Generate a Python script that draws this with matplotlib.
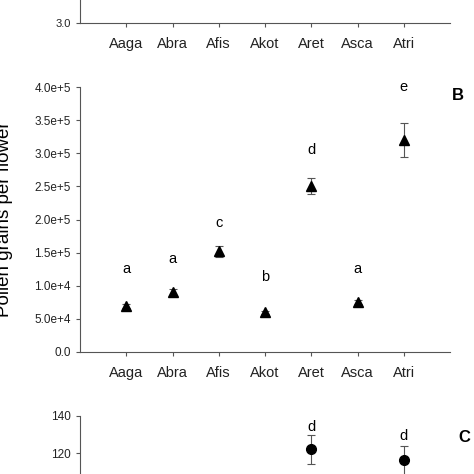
import matplotlib
matplotlib.use("Agg")
import matplotlib.pyplot as plt

plt.rcParams['font.family'] = ['Liberation Sans', 'DejaVu Sans']

species = ["Aaga", "Abra", "Afis", "Akot", "Aret", "Asca", "Atri"]
pollen = [70000, 90000, 152000, 60000, 250000, 75000, 320000]
pollen_err = [3000, 5000, 8000, 2500, 12000, 3000, 25000]
pollen_letters = ["a", "a", "c", "b", "d", "a", "e"]
pollen_letter_y = [125000, 140000, 195000, 113000, 305000, 125000, 400000]
b_ticks = [0, 50000, 100000, 150000, 200000, 250000, 300000, 350000, 400000]
b_ticklabels = ["0.0", "5.0e+4", "1.0e+4", "1.5e+5", "2.0e+5", "2.5e+5", "3.0e+5", "3.5e+5", "4.0e+5"]

c_species_idx = [5, 7]
c_vals = [122, 116]
c_err = [8, 8]
c_letters = ["d", "d"]
c_letter_y = [134, 129]
c_ticks = [120, 140]

W = H = 474
fig = plt.figure(figsize=(4.74, 4.74), dpi=100)
xs = list(range(1, 8))
gray = "#555555"

def style(ax):
    for s in ["top", "right"]:
        ax.spines[s].set_visible(False)
    for s in ["left", "bottom"]:
        ax.spines[s].set_color(gray)
        ax.spines[s].set_linewidth(0.8)
    ax.tick_params(colors=gray, labelcolor="#222222", length=3, width=0.8)
    ax.set_xlim(0, 8)

def ax_px(left, bottom, right, top):
    return fig.add_axes([left / W, 1 - bottom / H, (right - left) / W, (bottom - top) / H])

# top partial panel
axA = ax_px(80, 23, 450, -200)
style(axA)
axA.set_ylim(3.0, 4.0)
axA.set_yticks([3.0])
axA.set_yticklabels(["3.0"], fontsize=8)
axA.set_xticks(xs)
axA.set_xticklabels(species, fontsize=10.5)
axA.tick_params(axis="x", pad=7)

# panel B
axB = ax_px(80, 352, 450, 87)
style(axB)
axB.errorbar(xs, pollen, yerr=pollen_err, fmt="^", color="black", ms=7,
             ecolor=gray, elinewidth=0.8, capsize=3, capthick=0.8)
for x, t, y in zip(xs, pollen_letters, pollen_letter_y):
    axB.text(x, y, t, ha="center", va="center", fontsize=10.5)
axB.set_ylim(0, 400000)
axB.set_yticks(b_ticks)
axB.set_yticklabels(b_ticklabels, fontsize=8.5)
axB.set_xticks(xs)
axB.set_xticklabels(species, fontsize=10.5)
axB.tick_params(axis="x", pad=7)
axB.set_ylabel("Pollen grains per flower", fontsize=13.5)
axB.yaxis.set_label_coords(-0.18, 0.5)
fig.text(458 / W, 1 - 95 / H, "B", fontsize=12, fontweight="bold", ha="center", va="center")

# bottom partial panel C
axC = ax_px(80, 675, 450, 416)
style(axC)
axC.errorbar(c_species_idx, c_vals, yerr=c_err, fmt="o", color="black", ms=7,
             ecolor=gray, elinewidth=0.8, capsize=3, capthick=0.8)
for x, t, y in zip(c_species_idx, c_letters, c_letter_y):
    axC.text(x, y, t, ha="center", va="center", fontsize=10.5)
axC.set_ylim(0, 140)
axC.set_yticks(c_ticks)
axC.set_yticklabels([str(t) for t in c_ticks], fontsize=8.5)
axC.set_xticks([])
fig.text(464 / W, 1 - 437 / H, "C", fontsize=12, fontweight="bold", ha="center", va="center")

fig.savefig("out.png", dpi=100)
